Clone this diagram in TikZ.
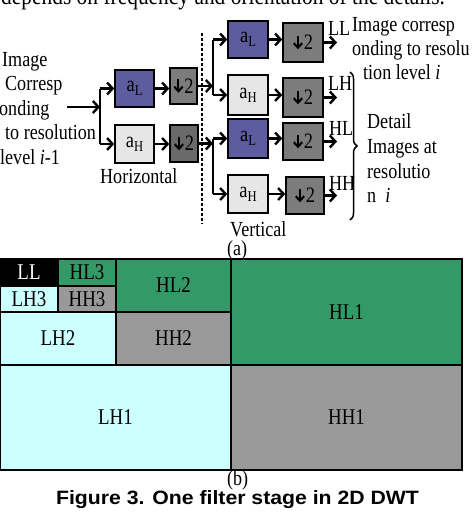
\documentclass[tikz,border=0pt]{standalone}
\usepackage{fontspec}
\setmainfont{Liberation Serif}
\newfontfamily\capfont{Liberation Sans}
\usetikzlibrary{arrows.meta,decorations.pathreplacing}
\definecolor{slate}{HTML}{5C5C9E}
\definecolor{pale}{HTML}{E6E6E6}
\definecolor{dgray}{HTML}{7C7C7C}
\definecolor{ddgray}{HTML}{6A6A6A}
\definecolor{cgreen}{HTML}{339966}
\definecolor{ccyan}{HTML}{CCFFFF}
\definecolor{cgray}{HTML}{999999}
\newcommand\sq[1]{\scalebox{0.84}[1]{#1}}
\newcommand\dntwo{\sq{\tikz[baseline=0pt]\draw[line width=2.3pt,-{Straight Barb[length=4.5pt,width=10pt]}] (0pt,14pt)--(0pt,0.5pt);\hspace{1pt}2}}
\newcommand\aL{\sq{a\raisebox{-4pt}{\fontsize{15}{15}\selectfont L}}}
\newcommand\aH{\sq{a\raisebox{-4pt}{\fontsize{15}{15}\selectfont H}}}
\tikzset{
 lbl/.style={font=\fontsize{21.5}{21.5}\selectfont, inner sep=0pt, anchor=base west},
 flt/.style={draw=black, line width=1.6pt, inner sep=0pt, font=\fontsize{22}{22}\selectfont},
 lowbox/.style={flt, fill=slate},
 highbox/.style={flt, fill=pale},
 dnbox/.style={flt, fill=dgray},
 conn/.style={line width=2.4pt, -{Straight Barb[length=5.5pt,width=12pt]}},
 bar/.style={line width=2.4pt},
 cell/.style={draw=black, line width=1.4pt, inner sep=0pt, font=\fontsize{22.5}{22.5}\selectfont}
}
\begin{document}
\begin{tikzpicture}[x=1pt,y=-1pt]
\useasboundingbox (0,0) rectangle (474,514);
% cut top text
\node[lbl, font=\fontsize{25.5}{25.5}\selectfont] (toptext) at (1,5) {\sq{depends on frequency and orientation of the details.}};
% left text
\node[lbl] (t1) at (2,66) {\sq{Image}};
\node[lbl] (t2) at (5,90.5) {\sq{Corresp}};
\node[lbl] (t3) at (-1,115) {\sq{onding}};
\node[lbl] (t4) at (5,139.5) {\sq{to resolution}};
\node[lbl] (t5) at (0,164) {\sq{level \textit{i}-1}};
% horizontal stage
\node[lowbox, minimum width=39pt, minimum height=37pt] (hL) at (134.5,88.5) {\aL};
\node[dnbox, minimum width=27pt, minimum height=36pt] (hd1) at (183.5,86) {\dntwo};
\node[highbox, minimum width=39pt, minimum height=38pt] (hH) at (134.5,144) {\aH};
\node[flt, fill=ddgray, minimum width=28pt, minimum height=37pt] (hd2) at (184,143.5) {\dntwo};
\node[lbl] (horiz) at (100,183) {\sq{Horizontal}};
\coordinate (in) at (67,107);
\coordinate (hb) at (100,107);
\draw[bar] (hL.west -| hb) -- (hH.west -| hb);
\draw[conn] (in) -- (hb);
\draw[conn] (hL.west -| hb) -- (hL.west);
\draw[conn] (hH.west -| hb) -- (hH.west);
\draw[conn] (hL.east) -- (hL.east -| hd1.west);
\draw[conn] (hH.east) -- (hH.east -| hd2.west);
% dashed separator
\coordinate (dtop) at (202,33);
\coordinate (dbot) at (202,224);
\draw[line width=1.6pt, dash pattern=on 3pt off 2pt] (dtop) -- (dbot);
% vertical stage
\node[lowbox, minimum width=40pt, minimum height=37pt] (v1L) at (248,39.5) {\aL};
\node[dnbox, minimum width=40pt, minimum height=39pt] (v1d) at (303,42.5) {\dntwo};
\node[highbox, minimum width=40pt, minimum height=40pt] (v2H) at (248,95) {\aH};
\node[dnbox, minimum width=40pt, minimum height=39pt] (v2d) at (303,97.5) {\dntwo};
\node[lowbox, minimum width=40pt, minimum height=39pt] (v3L) at (248,138.5) {\aL};
\node[dnbox, minimum width=40pt, minimum height=37pt] (v3d) at (303,141.5) {\dntwo};
\node[highbox, minimum width=40pt, minimum height=38pt] (v4H) at (248,194) {\aH};
\node[dnbox, minimum width=38pt, minimum height=37pt] (v4d) at (305,195.5) {\dntwo};
\coordinate (vb) at (213,0);
\draw[bar] (v1L.west -| vb) -- (v2H.west -| vb);
\draw[bar] (v3L.west -| vb) -- (v4H.west -| vb);
\draw[conn] (hd1.east) -- (hd1.east -| vb);
\draw[conn] (hd2.east) -- (hd2.east -| vb);
\draw[conn] (v1L.west -| vb) -- (v1L.west);
\draw[conn] (v2H.west -| vb) -- (v2H.west);
\draw[conn] (v3L.west -| vb) -- (v3L.west);
\draw[conn] (v4H.west -| vb) -- (v4H.west);
\draw[conn] (v1L.east) -- (v1L.east -| v1d.west);
\draw[conn] (v2H.east) -- (v2H.east -| v2d.west);
\draw[conn] (v3L.east) -- (v3L.east -| v3d.west);
\draw[conn] (v4H.east) -- (v4H.east -| v4d.west);
\coordinate (ob) at (337,0);
\draw[conn] (v1d.east) -- (v1d.east -| ob);
\draw[conn] (v2d.east) -- (v2d.east -| ob);
\draw[conn] (v3d.east) -- (v3d.east -| ob);
\draw[conn] (v4d.east) -- (v4d.east -| ob);
\node[lbl] (lLL) at (328,35) {\sq{LL}};
\node[lbl] (lLH) at (328,90) {\sq{LH}};
\node[lbl] (lHL) at (329,135) {\sq{HL}};
\node[lbl] (lHH) at (329,190) {\sq{HH}};
\node[lbl] (r1) at (352,31) {\sq{Image corresp}};
\node[lbl] (r2) at (352,55) {\sq{onding to resolu}};
\node[lbl] (r3) at (363,79) {\sq{tion level \textit{i}}};
\coordinate (btop) at (350,72);
\coordinate (bbot) at (350,220);
\draw[line width=1.5pt, decorate, decoration={brace, amplitude=7pt}] (btop) -- (bbot);
\node[lbl] (d1) at (367,128) {\sq{Detail}};
\node[lbl] (d2) at (367,153) {\sq{Images at}};
\node[lbl] (d3) at (367,178) {\sq{resolutio}};
\node[lbl] (d4) at (367,202) {\sq{n\ \ \textit{i}}};
\node[lbl] (vert) at (230,236) {\sq{Vertical}};
\node[lbl] (capa) at (227,255.5) {\sq{(a)}};
% grid (b)
\node[cell, fill=black, text=white, minimum width=58pt, minimum height=27pt] (LL) at (29,272.5) {\sq{LL}};
\node[cell, fill=cgreen, minimum width=58pt, minimum height=27pt] (HL3) at (87,272.5) {\sq{HL3}};
\node[cell, fill=ccyan, minimum width=58pt, minimum height=26pt] (LH3) at (29,299) {\sq{LH3}};
\node[cell, fill=cgray, minimum width=58pt, minimum height=26pt] (HH3) at (87,299) {\sq{HH3}};
\node[cell, fill=cgreen, minimum width=115pt, minimum height=53pt] (HL2) at (173.5,285.5) {\sq{HL2}};
\node[cell, fill=ccyan, minimum width=116pt, minimum height=53pt] (LH2) at (58,338.5) {\sq{LH2}};
\node[cell, fill=cgray, minimum width=115pt, minimum height=53pt] (HH2) at (173.5,338.5) {\sq{HH2}};
\node[cell, fill=cgreen, minimum width=231pt, minimum height=106pt] (HL1) at (346.5,312) {\sq{HL1}};
\node[cell, fill=ccyan, minimum width=231pt, minimum height=105pt] (LH1) at (115.5,417.5) {\sq{LH1}};
\node[cell, fill=cgray, minimum width=231pt, minimum height=105pt] (HH1) at (346.5,417.5) {\sq{HH1}};
\node[lbl] (capb) at (227,485) {\sq{(b)}};
\node[font=\capfont\bfseries\fontsize{19.3}{19.3}\selectfont, inner sep=0pt, anchor=base] (cap) at (237.5,504) {\scalebox{1.1}[1]{Figure 3. One filter stage in 2D DWT}};
\end{tikzpicture}
\end{document}
